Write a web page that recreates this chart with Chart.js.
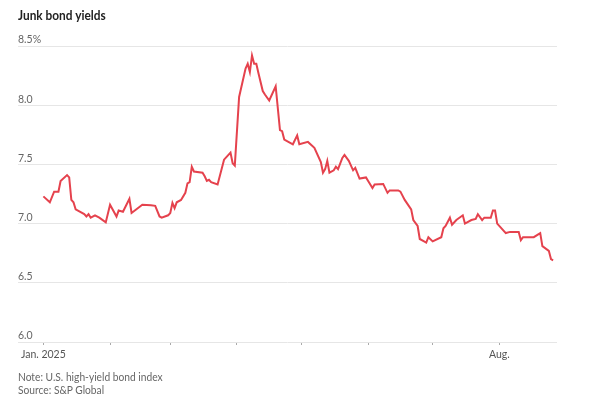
<!DOCTYPE html>
<html>
<head>
<meta charset="utf-8">
<script src="https://cdn.jsdelivr.net/npm/chart.js@4"></script>
<style>
  html, body { margin: 0; padding: 0; background: #fff; }
  #wrap { position: relative; width: 599px; height: 397px; }
  #title { position: absolute; left: 18px; top: 8px; font: bold 12.5px Lato, "Noto Sans", sans-serif; color: #222; transform: scaleX(0.95); transform-origin: left; }
  .note { position: absolute; left: 18px; font: 11px Lato, sans-serif; color: #666; transform: scaleX(0.93); transform-origin: left; }
  canvas { position: absolute; left: 0; top: 0; }
</style>
</head>
<body>
<div id="wrap">
  <canvas id="chart" width="599" height="397"></canvas>
  <div id="title">Junk bond yields</div>
  <div class="note" style="top:370px">Note: U.S. high-yield bond index</div>
  <div class="note" style="top:383px">Source: S&amp;P Global</div>
</div>
<script>
// day of 2025 (0 = Jan. 1) and index yield, %
const dayOfYear = [
  0, 3, 5, 7, 8, 11, 12, 13, 14, 15, 19, 20, 21, 22, 24, 26, 29,
  31, 34, 35, 37, 40, 41, 46, 50, 52, 54, 55, 58, 59, 60, 61, 62,
  64, 66, 67, 68, 69, 70, 74, 75, 76, 77, 78, 81, 84, 87, 88, 89,
  91, 94, 95, 96, 97, 98, 99, 100, 102, 103, 105, 108, 110, 111, 112,
  116, 118, 119, 123, 126, 129, 130, 131, 132, 133, 135, 136, 137,
  139, 140, 142, 144, 145, 147, 150, 151, 153, 154, 158, 160, 161,
  165, 166, 168, 171, 172, 174, 175, 177, 178, 179, 181, 185, 186,
  187, 189, 190, 192, 195, 196, 199, 201, 202, 204, 205, 208, 209,
  210, 211, 215, 217, 221, 222, 223, 228, 231, 232, 235, 236, 237
];
const yields = [
  7.23, 7.18, 7.27, 7.27, 7.36, 7.41, 7.39, 7.20, 7.18, 7.12, 7.08, 7.06, 7.08, 7.05, 7.07, 7.05, 7.01,
  7.16, 7.06, 7.11, 7.10, 7.21, 7.09, 7.16, 7.155, 7.15, 7.06, 7.05, 7.07, 7.09, 7.175, 7.13, 7.18,
  7.20, 7.26, 7.34, 7.35, 7.48, 7.44, 7.43, 7.40, 7.36, 7.37, 7.35, 7.33, 7.54, 7.60, 7.51, 7.49,
  8.07, 8.31, 8.35, 8.28, 8.42, 8.35, 8.35, 8.27, 8.12, 8.09, 8.04, 8.16, 7.79, 7.78, 7.71,
  7.67, 7.745, 7.67, 7.69, 7.64, 7.52, 7.43, 7.46, 7.53, 7.43, 7.45, 7.48, 7.46,
  7.555, 7.58, 7.53, 7.45, 7.47, 7.38, 7.39, 7.36, 7.30, 7.33, 7.335, 7.26, 7.28,
  7.28, 7.27, 7.20, 7.12, 7.03, 6.98, 6.87, 6.85, 6.84, 6.885, 6.85, 6.885, 6.96,
  6.98, 7.05, 6.99, 7.03, 7.07, 7.00, 7.03, 7.04, 7.08, 7.03, 7.05, 7.05, 7.11,
  7.11, 7.00, 6.92, 6.93, 6.93, 6.86, 6.885, 6.885, 6.92, 6.81, 6.77, 6.70, 6.69
];
const monthStarts = [0, 31, 59, 90, 120, 151, 181, 212];
const monthLabels = ["Jan. 2025", "", "", "", "", "", "", "Aug."];
const yTicks = [6.0, 6.5, 7.0, 7.5, 8.0, 8.5];

const points = dayOfYear.map((d, i) => ({ x: d, y: yields[i] }));
const tickFont = { family: "Lato, sans-serif", size: 10.5 };

new Chart(document.getElementById("chart").getContext("2d"), {
  type: "line",
  data: {
    datasets: [{
      data: points,
      borderColor: "#e5424d",
      borderWidth: 2,
      pointRadius: 0,
      tension: 0
    }]
  },
  options: {
    responsive: false,
    animation: false,
    layout: { padding: { left: 18, right: 42, top: 46, bottom: 33 } },
    plugins: { legend: { display: false }, tooltip: { enabled: false } },
    scales: {
      x: {
        type: "linear",
        min: -11.8,
        max: 238.8,
        afterBuildTicks: (s) => { s.ticks = monthStarts.map(v => ({ value: v })); },
        afterFit: (s) => { s.height = 22; },
        grid: { drawOnChartArea: false, drawTicks: true, tickLength: 3, color: "#aaa" },
        border: { display: false },
        ticks: {
          autoSkip: false,
          maxRotation: 0,
          padding: 3,
          color: "#555",
          font: tickFont,
          callback: (v, i) => monthLabels[i]
        }
      },
      y: {
        min: 6.0,
        max: 8.5,
        afterBuildTicks: (s) => { s.ticks = yTicks.map(v => ({ value: v })); },
        afterFit: (s) => { s.width = 0; },
        grid: { drawTicks: false, color: "#e6e6e6", lineWidth: 1 },
        border: { display: false },
        ticks: {
          mirror: true,
          padding: 0,
          labelOffset: -6,
          color: "#666",
          font: tickFont,
          callback: (v) => v === 8.5 ? "8.5%" : v.toFixed(1)
        }
      }
    }
  }
});
</script>
</body>
</html>
